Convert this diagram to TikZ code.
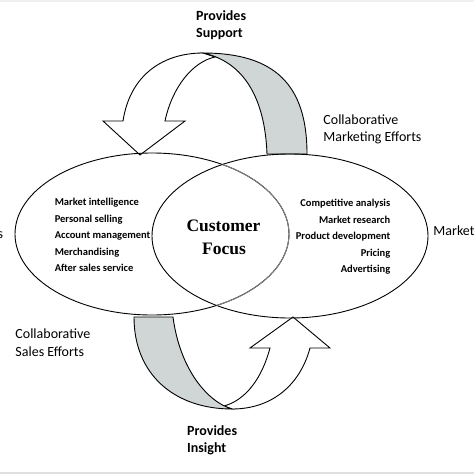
\documentclass[tikz,border=0pt]{standalone}
\usepackage{fontspec}
\setmainfont{Carlito}
\newfontfamily\focusfont{Liberation Serif}
\usepackage{xcolor}
\usepackage{tikz}
\usetikzlibrary{positioning}
\definecolor{bandgray}{RGB}{208,214,214}

\begin{document}
\begin{tikzpicture}[x=1pt, y=-1pt, line width=0.9pt,
    itemtext/.style={font=\fontsize{10.5}{12}\selectfont\bfseries, inner sep=0pt},
    sidetext/.style={font=\fontsize{14}{17}\selectfont, inner sep=0pt},
    boldside/.style={font=\fontsize{14}{17}\selectfont\bfseries, inner sep=0pt},
    focustext/.style={font=\focusfont\fontsize{17.5}{22}\selectfont\bfseries, inner sep=0pt}]
    \useasboundingbox (0,0) rectangle (474,474);
    \clip (0,0) rectangle (474,474);

    % Frame strips
    \fill[gray!12] (0,0) rectangle (474,1.5);
    \fill[gray!25] (0,472) rectangle (474,474);

    % Top arrow: white head part
    \draw[fill=white] (123,121) .. controls (130,75) and (163,53) .. (203,53)
        -- (215,57) .. controls (192,62) and (172,88) .. (165,121)
        -- (185,121) -- (140,155) -- (103,121) -- cycle;
    % Top arrow: gray band
    \draw[fill=bandgray] (203,53) .. controls (275,53) and (307,85) .. (307,154)
        -- (267,154) .. controls (265,100) and (245,62) .. (203,53) -- cycle;

    % Bottom arrow: white head part
    \draw[fill=white] (232,409) .. controls (272,409) and (300,385) .. (310,348)
        -- (330,348) -- (293,317) -- (250,348) -- (270,348)
        .. controls (262,378) and (246,400) .. (224,406) -- cycle;
    % Bottom arrow: gray band
    \draw[fill=bandgray] (173,317) -- (134,317) .. controls (134,375) and (175,409) .. (232,409)
        .. controls (208,402) and (180,370) .. (173,317) -- cycle;

    % Overlapping ellipses
    \draw (152,234) ellipse [x radius=137pt, y radius=81pt];
    \draw (290,236) ellipse [x radius=138pt, y radius=82pt];
    \begin{scope}
        \clip (290,236) ellipse [x radius=138pt, y radius=82pt];
        \draw[gray] (152,234) ellipse [x radius=137pt, y radius=81pt];
    \end{scope}

    % Centre text
    \node[focustext, anchor=base] (customer) at (223.5,231.7) {Customer};
    \node[focustext, anchor=base] (focus) at (224,254) {Focus};

    % Sales activities
    \foreach \txt [count=\i] in {Market intelligence, Personal selling,
        Account management, Merchandising, After sales service}
        \node[itemtext, anchor=base west] (sales\i) at (54.3,{205.5+16.6*(\i-1)}) {\txt};

    % Marketing activities
    \foreach \txt [count=\i] in {Competitive analysis, Market research,
        Product development, Pricing, Advertising}
        \node[itemtext, anchor=base east] (mkt\i) at (390.7,{206.5+16.6*(\i-1)}) {\txt};

    % Side labels (cut by the frame)
    \node[sidetext, anchor=base east] (saleslabel) at (3.5,238) {Sales};
    \node[sidetext, anchor=base west] (mktlabel) at (433,235) {Marketing};

    % Arrow labels
    \node[boldside, anchor=base west] (prov1) at (195.7,20.7) {Provides};
    \node[boldside, anchor=base west] (supp) at (195.7,37.3) {Support};
    \node[sidetext, anchor=base west] (collab1) at (323,124) {Collaborative};
    \node[sidetext, anchor=base west] (mkteff) at (323,141.5) {Marketing Efforts};
    \node[sidetext, anchor=base west] (collab2) at (15,338.3) {Collaborative};
    \node[sidetext, anchor=base west] (saleseff) at (15,356) {Sales Efforts};
    \node[boldside, anchor=base west] (prov2) at (186.7,435.3) {Provides};
    \node[boldside, anchor=base west] (insight) at (186.7,452.5) {Insight};

\end{tikzpicture}
\end{document}
